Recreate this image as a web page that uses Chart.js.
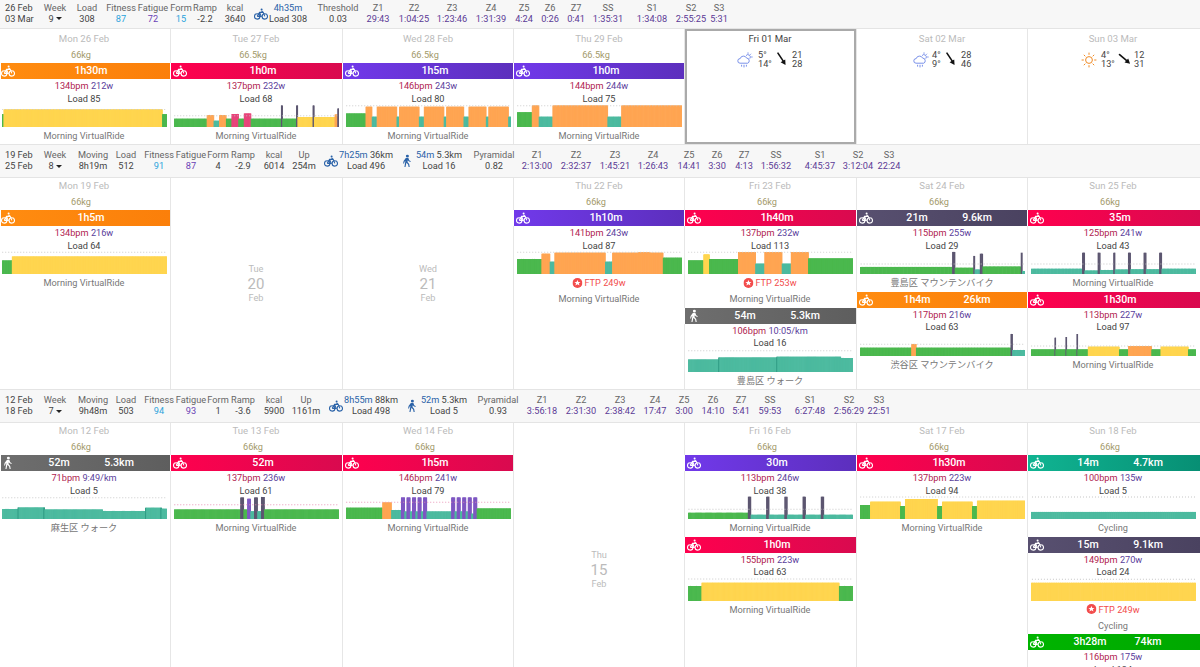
<!DOCTYPE html>
<html>
<head>
<meta charset="utf-8">
<title>Calendar</title>
<script src="https://cdn.jsdelivr.net/npm/chart.js@4"></script>
<style>
  html, body { margin: 0; padding: 0; background: #fff; }
  #page { position: relative; width: 1200px; height: 667px; overflow: hidden; font-family: Roboto, "Noto Sans CJK JP", sans-serif; font-size: 9.2px; color: #444; }
  #page > * { position: absolute; }
  .t { white-space: nowrap; line-height: 14px; height: 14px; }
  .head { left: 0; width: 1200px; background: #f7f7f7; border-bottom: 1px solid #e4e4e4; box-sizing: border-box; }
  .vline { width: 1px; background: #e6e6e6; }
  .hline { left: 0; width: 1200px; height: 1px; background: #e4e4e4; }
  .bar { height: 16px; box-sizing: border-box; border-left: 1px solid #fff; }
  .today { border: 2px solid #aaa; box-sizing: border-box; background: #fff; }
  canvas { display: block; }
</style>
</head>
<body>
<div id="page"></div>
<script>
// Week summary rows
const weekFrom = ["26 Feb", "19 Feb", "12 Feb"];
const weekTo = ["03 Mar", "25 Feb", "18 Feb"];
const weekNo = ["9", "8", "7"];
const week1Heads = ["Load", "Fitness", "Fatigue", "Form", "Ramp", "kcal", "Threshold", "Z1", "Z2", "Z3", "Z4", "Z5", "Z6", "Z7", "SS", "S1", "S2", "S3"];
const week1Vals = ["308", "87", "72", "15", "-2.2", "3640", "0.03", "29:43", "1:04:25", "1:23:46", "1:31:39", "4:24", "0:26", "0:41", "1:35:31", "1:34:08", "2:55:25", "5:31"];
const week2Heads = ["Moving", "Load", "Fitness", "Fatigue", "Form", "Ramp", "kcal", "Up", "Pyramidal", "Z1", "Z2", "Z3", "Z4", "Z5", "Z6", "Z7", "SS", "S1", "S2", "S3"];
const week2Vals = ["8h19m", "512", "91", "87", "4", "-2.9", "6014", "254m", "0.82", "2:13:00", "2:32:37", "1:45:21", "1:26:43", "14:41", "3:30", "4:13", "1:56:32", "4:45:37", "3:12:04", "22:24"];
const week3Vals = ["9h48m", "503", "94", "93", "1", "-3.6", "5900", "1161m", "0.93", "3:56:18", "2:31:30", "2:38:42", "17:47", "3:00", "14:10", "5:41", "59:53", "6:27:48", "2:56:29", "22:51"];
const weekRideTime = ["4h35m", "7h25m", "8h55m"];
const weekRideDist = ["", "36km", "88km"];
const weekRideLoad = ["Load 308", "Load 496", "Load 498"];
const weekWalkTime = ["", "54m", "52m"];
const weekWalkDist = ["", "5.3km", "5.3km"];
const weekWalkLoad = ["", "Load 16", "Load 5"];

// Day cells, left to right, one list per week
const week1Days = ["Mon 26 Feb", "Tue 27 Feb", "Wed 28 Feb", "Thu 29 Feb", "Fri 01 Mar", "Sat 02 Mar", "Sun 03 Mar"];
const week1Kg = ["66kg", "66.5kg", "66.5kg", "66.5kg", "", "", ""];
const week2Days = ["Mon 19 Feb", "", "", "Thu 22 Feb", "Fri 23 Feb", "Sat 24 Feb", "Sun 25 Feb"];
const week2Kg = ["66kg", "", "", "66kg", "66kg", "66kg", "66kg"];
const week3Days = ["Mon 12 Feb", "Tue 13 Feb", "Wed 14 Feb", "", "Fri 16 Feb", "Sat 17 Feb", "Sun 18 Feb"];
const week3Kg = ["66kg", "66kg", "66kg", "", "66kg", "66kg", "66kg"];

// Days with nothing on them: week, column, three lines
const blankWeek = [1, 1, 2];
const blankCol = [1, 2, 3];
const blankName = ["Tue", "Wed", "Thu"];
const blankNum = ["20", "21", "15"];
const blankMonth = ["Feb", "Feb", "Feb"];

// Forecast
const wxCol = [4, 5, 6];
const wxKind = ["cloud", "cloud", "sun"];
const wxLow = ["5°", "4°", "4°"];
const wxHigh = ["14°", "9°", "13°"];
const wxWind = ["21", "28", "12"];
const wxGust = ["28", "46", "31"];

// Power charts: minutes per interval, level per interval, zone per interval, dotted line level
const mon26Mins = [1, 86.5, 2.5];
const mon26Level = [50, 69, 50];
const mon26Zone = ["g", "y", "g"];
const tue27Mins = [12, 2.5, 2, 2.5, 2, 2.5, 2, 2.5, 11, 0.5, 5, 0.5, 5.5, 0.5, 7.5, 1, 0.5];
const tue27Level = [32, 47, 24, 47, 32, 51, 32, 53, 32, 85, 32, 85, 39, 85, 39, 49, 73];
const tue27Zone = ["g", "o", "t", "o", "g", "p", "g", "p", "g", "s", "g", "s", "y", "s", "y", "o", "s"];
const wed28Mins = [8, 2.5, 2, 8, 1, 8, 2, 8, 1, 7, 2, 7, 1, 8, 1];
const wed28Level = [53, 80, 40, 80, 40, 80, 40, 80, 40, 80, 40, 80, 40, 80, 40];
const wed28Zone = ["g", "o", "t", "o", "t", "o", "t", "o", "t", "o", "t", "o", "t", "o", "t"];
const thu29Mins = [5.5, 2.5, 5, 20, 5, 22];
const thu29Level = [58, 85, 40, 85, 40, 85];
const thu29Zone = ["g", "o", "t", "o", "t", "o"];
const mon19Mins = [4, 61];
const mon19Level = [53, 69];
const mon19Zone = ["g", "y"];
const thu22Mins = [10.5, 3.5, 2, 5, 5.5, 5.5, 5.5, 3, 5, 6, 5, 5.5, 8];
const thu22Level = [59, 80, 48, 84, 84, 84, 84, 48, 84, 84, 86, 84, 64];
const thu22Zone = ["g", "o", "t", "o", "o", "o", "o", "t", "o", "o", "o", "o", "g"];
const fri23Mins = [9.5, 3.5, 17.5, 10.5, 5.5, 10.5, 5.5, 10.5, 27];
const fri23Level = [53, 77, 59, 87, 40, 87, 40, 87, 61];
const fri23Zone = ["g", "y", "g", "o", "t", "o", "t", "o", "g"];
const fri23WalkMins = [10, 0.33, 18.67, 0.33, 20.67, 4];
const fri23WalkLevel = [49, 57, 57, 60, 60, 55];
const fri23WalkZone = ["t", "d", "t", "d", "t", "t"];
const sat24Mins = [11.7, 0.33, 2.3, 0.2, 0.67, 0.4, 4.8, 0.17, 0.33];
const sat24Level = [27, 87, 24, 71, 17, 80, 29, 84, 11];
const sat24Zone = ["g", "s", "g", "s", "t", "s", "g", "s", "t"];
const sat24bMins = [20, 1.8, 36.6, 0.6, 4.9];
const sat24bLevel = [32, 47, 32, 87, 23];
const sat24bZone = ["g", "o", "g", "s", "t"];
const sun25Mins = [11, 0.5, 2.8, 0.5, 2.8, 0.4, 2.9, 0.5, 2.8, 0.5, 2.8, 0.5, 7.4];
const sun25Level = [20, 84, 13, 84, 15, 84, 17, 84, 18, 84, 18, 84, 20];
const sun25Zone = ["t", "s", "t", "s", "t", "s", "t", "s", "t", "s", "t", "s", "t"];
const sun25bMins = [13, 0.5, 5.5, 0.5, 5.5, 0.5, 5.6, 17, 5, 12.7, 5, 15, 4.2];
const sun25bLevel = [25, 72, 25, 75, 25, 87, 25, 36, 25, 39, 25, 36, 25];
const sun25bZone = ["g", "s", "g", "s", "g", "s", "g", "y", "g", "o", "g", "y", "g"];
const mon12Mins = [5, 0.33, 7.87, 0.33, 18.27, 13.5, 0.33, 4.47, 0.33, 1.67];
const mon12Level = [39, 45, 45, 45, 37, 31, 44, 44, 44, 40];
const mon12Zone = ["t", "d", "t", "d", "t", "t", "d", "t", "d", "t"];
const tue13Mins = [20.8, 1, 1.2, 1, 1.2, 1, 1.2, 1, 23.3];
const tue13Level = [37, 85, 37, 80, 30, 85, 30, 87, 37];
const tue13Zone = ["g", "s", "g", "v", "t", "s", "t", "s", "g"];
const wed14Mins = [14.4, 3.5, 3.8, 1.3, 0.9, 1.3, 0.9, 1.3, 0.9, 1.3, 0.9, 1.3, 9.6, 1.3, 0.9, 1.3, 0.9, 1.3, 0.9, 1.3, 0.9, 1.3, 13.4];
const wed14Level = [44, 65, 35, 85, 29, 85, 29, 85, 29, 85, 29, 85, 29, 85, 29, 85, 29, 85, 29, 85, 20, 85, 41];
const wed14Zone = ["g", "o", "t", "v", "t", "v", "t", "v", "t", "v", "t", "v", "t", "v", "t", "v", "t", "v", "t", "v", "t", "v", "g"];
const fri16Mins = [11, 0.5, 2.8, 0.5, 2.8, 0.5, 2.8, 0.5, 2.8, 0.5, 5.3];
const fri16Level = [24, 88, 16, 88, 16, 88, 16, 88, 16, 88, 16];
const fri16Zone = ["g", "s", "t", "s", "t", "s", "t", "s", "t", "s", "t"];
const fri16bMins = [5, 50, 5];
const fri16bLevel = [59, 72, 59];
const fri16bZone = ["g", "y", "g"];
const sat17Mins = [5.7, 16.3, 2.6, 17.5, 2.6, 16.3, 2.6, 26];
const sat17Level = [55, 68, 51, 79, 51, 68, 51, 72];
const sat17Zone = ["g", "y", "g", "y", "g", "y", "g", "y"];
const sun18Mins = [14];
const sun18Level = [27];
const sun18Zone = ["t"];
const sun18bMins = [15];
const sun18bLevel = [72];
const sun18bZone = ["y"];

// Activities in reading order; the lists run in parallel
const actWeek = [0, 0, 0, 0, 1, 1, 1, 1, 1, 1, 1, 1, 2, 2, 2, 2, 2, 2, 2, 2, 2];
const actCol = [0, 1, 2, 3, 0, 3, 4, 4, 5, 5, 6, 6, 0, 1, 2, 4, 4, 5, 6, 6, 6];
const actSport = ["ride", "ride", "ride", "ride", "ride", "ride", "ride", "walk", "ride", "ride", "ride", "ride", "walk", "ride", "ride", "ride", "ride", "ride", "ride", "ride", "ride"];
const actKind = ["amber", "rose", "violet", "violet", "amber", "violet", "rose", "grey", "slate", "amber", "rose", "rose", "grey", "rose", "rose", "violet", "rose", "rose", "sea", "slate", "lime"];
const actTime = ["1h30m", "1h0m", "1h5m", "1h0m", "1h5m", "1h10m", "1h40m", "54m", "21m", "1h4m", "35m", "1h30m", "52m", "52m", "1h5m", "30m", "1h0m", "1h30m", "14m", "15m", "3h28m"];
const actDist = ["", "", "", "", "", "", "", "5.3km", "9.6km", "26km", "", "", "5.3km", "", "", "", "", "", "4.7km", "9.1km", "74km"];
const actBpm = ["134bpm", "137bpm", "146bpm", "144bpm", "134bpm", "141bpm", "137bpm", "106bpm", "115bpm", "117bpm", "125bpm", "113bpm", "71bpm", "137bpm", "146bpm", "113bpm", "155bpm", "137bpm", "100bpm", "149bpm", "116bpm"];
const actPower = ["212w", "232w", "243w", "244w", "216w", "243w", "232w", "10:05/km", "255w", "216w", "241w", "227w", "9:49/km", "236w", "241w", "246w", "223w", "223w", "135w", "270w", "175w"];
const actLoad = [85, 68, 80, 75, 64, 87, 113, 16, 29, 63, 43, 97, 5, 61, 79, 38, 63, 94, 5, 24, 134];
const actFtp = ["", "", "", "", "", "FTP 249w", "FTP 253w", "", "", "", "", "", "", "", "", "", "", "", "", "FTP 249w", ""];
const actName = ["Morning VirtualRide", "Morning VirtualRide", "Morning VirtualRide", "Morning VirtualRide", "Morning VirtualRide", "Morning VirtualRide", "Morning VirtualRide", "豊島区 ウォーク", "豊島区 マウンテンバイク", "渋谷区 マウンテンバイク", "Morning VirtualRide", "Morning VirtualRide", "麻生区 ウォーク", "Morning VirtualRide", "Morning VirtualRide", "Morning VirtualRide", "Morning VirtualRide", "Morning VirtualRide", "Cycling", "Cycling", ""];
const actMins = [mon26Mins, tue27Mins, wed28Mins, thu29Mins, mon19Mins, thu22Mins, fri23Mins, fri23WalkMins, sat24Mins, sat24bMins, sun25Mins, sun25bMins, mon12Mins, tue13Mins, wed14Mins, fri16Mins, fri16bMins, sat17Mins, sun18Mins, sun18bMins, null];
const actLevel = [mon26Level, tue27Level, wed28Level, thu29Level, mon19Level, thu22Level, fri23Level, fri23WalkLevel, sat24Level, sat24bLevel, sun25Level, sun25bLevel, mon12Level, tue13Level, wed14Level, fri16Level, fri16bLevel, sat17Level, sun18Level, sun18bLevel, null];
const actZone = [mon26Zone, tue27Zone, wed28Zone, thu29Zone, mon19Zone, thu22Zone, fri23Zone, fri23WalkZone, sat24Zone, sat24bZone, sun25Zone, sun25bZone, mon12Zone, tue13Zone, wed14Zone, fri16Zone, fri16bZone, sat17Zone, sun18Zone, sun18bZone, null];
const actLimit = [70, 45, 85, 85, 87, 87, 87, 85, 40, 47, 40, 40, 85, 57, 67, 39, 88, 88, 88, 87, 0];

// Styles and layout, kept apart from the values
const ZONE_COLORS = { g: "#4bb84e", t: "#4cba9f", d: "#2f9c84", y: "#ffd54f", o: "#ffa552", p: "#e8447a", s: "#5c5670", v: "#7e57c2" };
const KIND_FILL = {
  amber: "linear-gradient(90deg,#ff8c10,#fb7f0a)", rose: "linear-gradient(90deg,#ff004e,#d90a4f)",
  violet: "linear-gradient(90deg,#7139ea,#5c2fbd)", grey: "linear-gradient(90deg,#6e6e6e,#5e5e5e)",
  slate: "linear-gradient(90deg,#585070,#4a4260)", sea: "linear-gradient(90deg,#10b492,#078f74)",
  lime: "linear-gradient(90deg,#00b400,#00a800)"
};
const COL_X = [-2, 170, 342, 513, 684, 856, 1027, 1200];
const HEAD_TOP = [0, 145, 390];
const HEAD_H = [29, 33, 33];
const HEAD_Y = [7.5, 155, 400];
const WEEK_X = [55, 55, 55];
const STAT_X = [
  [87, 121, 153, 181, 205, 235, 338, 378, 414, 452, 491, 524, 550, 576, 608, 652, 691, 719],
  [93, 126, 159, 191, 218, 243, 274, 304, 494, 537, 576, 615, 653, 689, 717, 744, 776, 820, 858, 889],
  [93, 126, 159, 191, 218, 243, 274, 306, 498, 542, 581, 620, 655, 684, 713, 741, 770, 810, 849, 879]
];
const RIDE_X = [[261, 288], [331, 366], [336, 371]];
const WALK_X = [null, [407, 439], [412, 444]];
const CARD_TOP = [33, 180, 425];

const page = document.getElementById("page");

const BIKE = c => `<svg width="14" height="12" viewBox="0 0 14 12" fill="none" stroke="${c}" stroke-width="1.1"><circle cx="3.2" cy="8.4" r="2.7"/><circle cx="10.8" cy="8.4" r="2.7"/><path d="M3.2 8.4 5.6 4.4h3.6l1.6 4M5.6 4.4 7.2 8.4h-4M7.6 2.8l1.6 1.6"/><circle cx="7.6" cy="1.5" r="1" fill="${c}" stroke="none"/></svg>`;
const WALK = c => `<svg width="10" height="13" viewBox="0 0 10 13" fill="${c}"><circle cx="5.4" cy="1.6" r="1.5"/><path d="M3.8 3.4h2.6l.8 2.4 1.6 1-.5.8-2-1.1-.4-.9-.4 2 1.7 2 .5 3h-1.1l-.5-2.6-1.7-1.7-.9 4.3H2.4l1-6-.9.6-.4 1.9-1-.2.5-2.4z"/></svg>`;
const CLOUD = `<svg width="16" height="16" viewBox="0 0 16 16" fill="none" stroke="#6b85e6" stroke-width="0.9"><path d="M3 11.2a2.3 2.3 0 0 1 .2-4.6 3.4 3.4 0 0 1 6.4-.5 2.6 2.6 0 0 1 2.6 2.6 2.4 2.4 0 0 1-1.4 2.5z"/><path d="M9 3.6a2.4 2.4 0 0 1 3.8 3M11 .4v1.4M14 1.8l-1 1M15.6 5h-1.4M4.6 12.8v1.8M7 12.8v2.6M9.4 12.8v1.8"/></svg>`;
const SUN = `<svg width="16" height="16" viewBox="0 0 16 16" fill="none" stroke="#f08a24" stroke-width="1"><circle cx="8" cy="8" r="3.4"/><path d="M8 .6v2.2M8 13.2v2.2M.6 8h2.2M13.2 8h2.2M2.8 2.8l1.5 1.5M11.7 11.7l1.5 1.5M2.8 13.2l1.5-1.5M11.7 4.3l1.5-1.5"/></svg>`;
const WIND = `<svg width="12" height="14" viewBox="0 0 12 14"><path d="M1.6.6 7.6 9.6" stroke="#111" stroke-width="1.6"/><path d="M9.6 13 4.6 10.2l4.6-2.8z" fill="#111"/></svg>`;
const STAR = `<svg width="10" height="10" viewBox="0 0 10 10" style="vertical-align:-1.5px;margin-right:2px"><circle cx="5" cy="5" r="5" fill="#f24c4c"/><path d="M5 1.9l.9 2h2.2L6.400 5.300l.6 2.200L5 6.300 3 7.500l.6-2.200L1.900 3.900h2.200z" fill="#fff"/></svg>`;

function text(str, x, cy, opts) {
  opts = opts || {};
  const el = document.createElement("div");
  el.className = "t";
  el.textContent = str;
  el.style.top = (cy - 7) + "px";
  el.style.left = x + "px";
  if (opts.anchor !== "left") el.style.transform = "translateX(-50%)";
  el.style.color = opts.color || "#444";
  if (opts.size) el.style.fontSize = opts.size + "px";
  if (opts.weight) el.style.fontWeight = opts.weight;
  page.appendChild(el);
  return el;
}

function icon(svg, cx, cy) {
  const el = document.createElement("div");
  el.innerHTML = svg;
  el.style.lineHeight = "0";
  el.style.left = cx + "px";
  el.style.top = cy + "px";
  el.style.transform = "translate(-50%,-50%)";
  page.appendChild(el);
}

function box(cls, x, y, w, h) {
  const el = document.createElement("div");
  el.className = cls;
  el.style.left = x + "px";
  el.style.top = y + "px";
  if (w != null) el.style.width = w + "px";
  if (h != null) el.style.height = h + "px";
  page.appendChild(el);
  return el;
}

// Grid lines and header strips
[0, 1, 2].forEach(w => {
  const top = HEAD_TOP[w] + HEAD_H[w];
  const bottom = w < 2 ? HEAD_TOP[w + 1] : 667;
  for (let c = 1; c < 7; c++) box("vline", COL_X[c], top, null, bottom - top);
  box("head", 0, HEAD_TOP[w], null, HEAD_H[w]);
  if (w < 2) box("hline", 0, bottom - 1);
});
box("today", 685, 29, 171, 115);

// Week summaries
const allHeads = [week1Heads, week2Heads, week2Heads];
const allVals = [week1Vals, week2Vals, week3Vals];

[0, 1, 2].forEach(w => {
  const y1 = HEAD_Y[w], y2 = y1 + 11;
  text(weekFrom[w], 5, y1, { anchor: "left" });
  text(weekTo[w], 5, y2, { anchor: "left" });
  text("Week", WEEK_X[w], y1, { color: "#666" });
  text(weekNo[w], WEEK_X[w] - 4, y2);
  const arrow = box("", WEEK_X[w] + 1, y2 - 1.5);
  arrow.style.cssText += "width:0;height:0;border-left:3px solid transparent;border-right:3px solid transparent;border-top:3.5px solid #222;";

  allHeads[w].forEach((h, i) => {
    let color = "#444";
    if (h === "Fitness" || (h === "Form" && w === 0)) color = "#2aa3dc";
    if (h === "Fatigue") color = "#6a3fb5";
    if (/^(Z\d|SS|S\d)$/.test(h)) color = "#5b3a96";
    text(h, STAT_X[w][i], y1, { color: "#666" });
    text(allVals[w][i], STAT_X[w][i], y2, { color });
  });

  // Sport totals
  const rx = RIDE_X[w];
  icon(BIKE("#2a62a8"), rx[0], y1 + 6);
  if (weekRideDist[w]) {
    const line = text("", rx[1], y1);
    line.innerHTML = `<span style="color:#2a62a8">${weekRideTime[w]}</span> ${weekRideDist[w]}`;
  } else {
    text(weekRideTime[w], rx[1], y1, { color: "#2a62a8" });
  }
  text(weekRideLoad[w], rx[1], y2);
  if (WALK_X[w]) {
    const wx = WALK_X[w];
    icon(WALK("#2a62a8"), wx[0], y1 + 6);
    const line = text("", wx[1], y1);
    line.innerHTML = `<span style="color:#2a62a8">${weekWalkTime[w]}</span> ${weekWalkDist[w]}`;
    text(weekWalkLoad[w], wx[1], y2);
  }
});

// Day titles and weights
const allDays = [week1Days, week2Days, week3Days];
const allKg = [week1Kg, week2Kg, week3Kg];

[0, 1, 2].forEach(w => {
  allDays[w].forEach((d, c) => {
    if (!d) return;
    const today = w === 0 && c === 4;
    text(d, COL_X[c] + 86, CARD_TOP[w] + 6, { color: today ? "#444" : "#bbb", size: 9.6 });
    if (allKg[w][c]) text(allKg[w][c], COL_X[c] + 83, CARD_TOP[w] + 22, { color: "#a39a6b" });
  });
});

blankWeek.forEach((w, i) => {
  const x = COL_X[blankCol[i]] + 86;
  const mid = w === 1 ? 284 : 570;
  text(blankName[i], x, mid - 15, { color: "#bbb" });
  text(blankNum[i], x, mid, { color: "#bbb", size: 15 });
  text(blankMonth[i], x, mid + 14, { color: "#bbb" });
});

// Forecast cells
const wxIconX = [745, 921, 1089];
const wxTempX = [758, 932, 1101];
const wxArrowX = [782, 951, 1125];
const wxNumX = [792, 961, 1134];

wxCol.forEach((c, i) => {
  icon(wxKind[i] === "sun" ? SUN : CLOUD, wxIconX[i], 60);
  text(wxLow[i], wxTempX[i], 55, { anchor: "left" });
  text(wxHigh[i], wxTempX[i], 64, { anchor: "left" });
  const a = i === 2 ? 'style="transform:rotate(-16deg)"' : "";
  icon(WIND.replace("<svg", "<svg " + a), wxArrowX[i], 59);
  text(wxWind[i], wxNumX[i], 55, { anchor: "left" });
  text(wxGust[i], wxNumX[i], 64, { anchor: "left" });
});

// One slot per 10 seconds so intervals of any length fit a category axis
function expand(mins, levels, zones) {
  const vals = [], cols = [];
  mins.forEach((m, i) => {
    const n = Math.max(1, Math.round(m * 6));
    for (let k = 0; k < n; k++) {
      vals.push(levels[i]);
      cols.push(ZONE_COLORS[zones[i]]);
    }
  });
  return { vals, cols };
}

function powerChart(i, x, top) {
  const wrap = box("", x, top, 165, 25);
  const cv = document.createElement("canvas");
  cv.width = 165;
  cv.height = 25;
  wrap.appendChild(cv);
  const s = expand(actMins[i], actLevel[i], actZone[i]);
  new Chart(cv, {
    type: "bar",
    data: {
      labels: s.vals.map((_, k) => k),
      datasets: [
        { data: s.vals, backgroundColor: s.cols, barPercentage: 1, categoryPercentage: 1, order: 2 },
        { type: "line", data: s.vals.map(() => actLimit[i]), borderColor: actLimit[i] > 50 && actLimit[i] < 70 ? "#e58ab0" : "#c4c4c4", borderWidth: 1, borderDash: [1, 2], pointRadius: 0, order: 1 }
      ]
    },
    options: {
      responsive: false,
      animation: false,
      layout: { padding: 0 },
      plugins: { legend: { display: false }, tooltip: { enabled: false } },
      scales: {
        x: { display: false },
        y: { display: false, min: 0, max: 100 }
      }
    }
  });
}

// Activity cards stack downward inside their day
const nextTop = {};
actWeek.forEach((w, i) => {
  const c = actCol[i];
  const key = w + "-" + c;
  const y = nextTop[key] || CARD_TOP[w] + 30;
  const x = COL_X[c];
  const bar = box("bar", Math.max(x, 0), y, COL_X[c + 1] - Math.max(x, 0));
  bar.style.background = KIND_FILL[actKind[i]];
  icon(actSport[i] === "ride" ? BIKE("#fff") : WALK("#fff"), x + 10, y + 8);
  const font = { color: "#fff", size: 10.6, weight: 500 };
  if (actDist[i]) {
    text(actTime[i], x + (actKind[i] === "lime" ? 63 : 61), y + 8, font);
    text(actDist[i], x + 121, y + 8, font);
  } else {
    text(actTime[i], x + 93, y + 8, font);
  }
  const stat = text("", x + 86, y + 23);
  stat.innerHTML = `<span style="color:#b0224f">${actBpm[i]}</span> <span style="color:#5a3e9b">${actPower[i]}</span>`;
  text("Load " + actLoad[i], x + 86, y + 35.5);
  if (actMins[i]) powerChart(i, x + 4, y + 39);
  let after = y + 73;
  if (actFtp[i]) {
    const ftp = text("", x + 86, after);
    ftp.innerHTML = STAR + actFtp[i];
    ftp.style.color = "#f24c4c";
    after += 16;
  }
  if (actName[i]) text(actName[i], x + 86, after, { color: "#777" });
  nextTop[key] = after + 8.5;
});
</script>
</body>
</html>
